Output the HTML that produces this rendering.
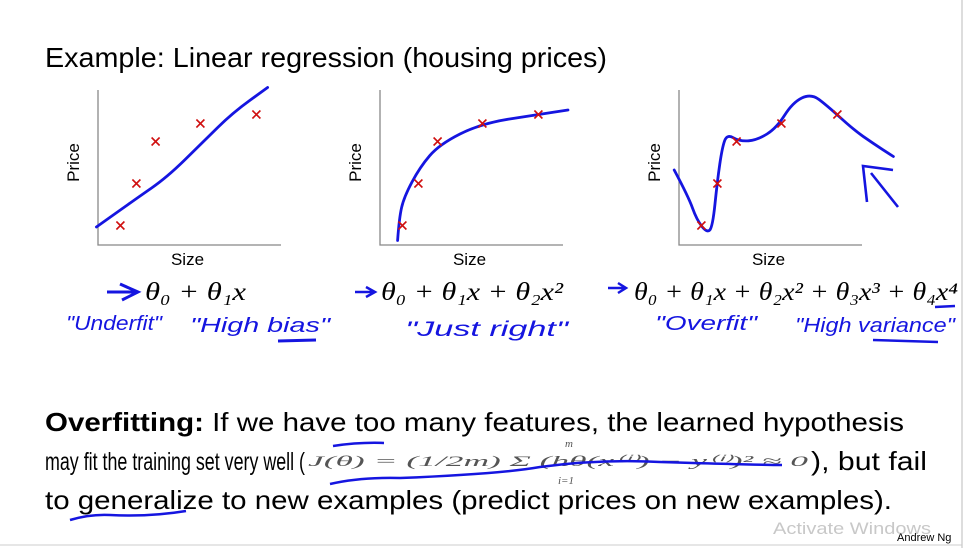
<!DOCTYPE html>
<html><head><meta charset="utf-8"><style>
html,body{margin:0;padding:0;background:#fff;}
svg{display:block;}
.t{font-family:"Liberation Sans",sans-serif;fill:#000;}
.m{font-family:"Liberation Serif",serif;fill:#000;}
.h{font-family:"Liberation Sans",sans-serif;font-style:italic;fill:#1515e0;}
</style></head><body>
<svg width="972" height="548" viewBox="0 0 972 548">
<line x1="962" y1="0" x2="962" y2="548" stroke="#bbb" stroke-width="1"/>
<line x1="0" y1="545" x2="962" y2="545" stroke="#ccc" stroke-width="1"/>
<text class="t" x="45" y="67" font-size="28" textLength="562" lengthAdjust="spacingAndGlyphs">Example: Linear regression (housing prices)</text>

<g id="charts"></g>

<text class="m" x="145" y="300" font-size="25" font-style="italic" textLength="101" lengthAdjust="spacingAndGlyphs">θ₀ + θ₁x</text>
<text class="m" x="381" y="300" font-size="25" font-style="italic" textLength="182" lengthAdjust="spacingAndGlyphs">θ₀ + θ₁x + θ₂x²</text>
<text class="m" x="634" y="300" font-size="25" font-style="italic" textLength="324" lengthAdjust="spacingAndGlyphs">θ₀ + θ₁x + θ₂x² + θ₃x³ + θ₄x⁴</text>
<path d="M107 292 L138 292 M120 284 L138 292 L122 300" stroke="#1515e0" stroke-width="3" fill="none"/>
<path d="M355 292 L375 292 M366 287 L375 292 L366 297" stroke="#1515e0" stroke-width="2.5" fill="none"/>
<path d="M608 288 L626 288 M618 283 L626 288 L618 293" stroke="#1515e0" stroke-width="2.5" fill="none"/>

<text class="h" x="66" y="330" font-size="20" textLength="96" lengthAdjust="spacingAndGlyphs">"Underfit"</text>
<text class="h" x="190" y="332" font-size="20" textLength="140" lengthAdjust="spacingAndGlyphs">"High bias"</text>
<path d="M278 341 L316 340" stroke="#1515e0" stroke-width="3"/>
<text class="h" x="405" y="336" font-size="21" textLength="163" lengthAdjust="spacingAndGlyphs">"Just right"</text>
<text class="h" x="655" y="330" font-size="20" textLength="102" lengthAdjust="spacingAndGlyphs">"Overfit"</text>
<text class="h" x="795" y="332" font-size="20" textLength="160" lengthAdjust="spacingAndGlyphs">"High variance"</text>
<path d="M873 340 L938 342 M935 307 L955 306" stroke="#1515e0" stroke-width="2.5" fill="none"/>

<text class="t" x="45" y="431" font-size="26" textLength="859" lengthAdjust="spacingAndGlyphs"><tspan font-weight="bold">Overfitting:</tspan> If we have too many features, the learned hypothesis</text>
<text class="t" x="45" y="470" font-size="25" textLength="260" lengthAdjust="spacingAndGlyphs">may fit the training set very well (</text>
<text x="308" y="466" font-size="15" style="font-family:'Liberation Serif',serif;font-style:italic;fill:#555" textLength="500" lengthAdjust="spacingAndGlyphs">J(θ) = (1/2m) Σ (hθ(x⁽ⁱ⁾) − y⁽ⁱ⁾)² ≈ 0</text>
<text x="565" y="447" font-size="11" style="font-family:'Liberation Serif',serif;font-style:italic;fill:#555">m</text>
<text x="558" y="484" font-size="11" style="font-family:'Liberation Serif',serif;font-style:italic;fill:#555">i=1</text>
<text class="t" x="811" y="470" font-size="26" textLength="116" lengthAdjust="spacingAndGlyphs">), but fail</text>
<text class="t" x="45" y="509" font-size="26" textLength="847" lengthAdjust="spacingAndGlyphs">to generalize to new examples (predict prices on new examples).</text>
<path d="M333 446 Q360 442 384 443 M330 484 Q360 477 400 478 Q500 474 540 467 Q600 459 660 462 Q760 465 782 465 M70 520 Q90 514 110 515 Q150 517 186 511" stroke="#1515e0" stroke-width="2.5" fill="none"/>
<text x="773" y="534" font-size="17" style="font-family:'Liberation Sans',sans-serif;fill:#c8c8c8" textLength="158" lengthAdjust="spacingAndGlyphs">Activate Windows</text>
<text class="t" x="897" y="541" font-size="11">Andrew Ng</text>
</svg>
<script>
// Data: house sizes and prices (arbitrary units)
const sizes = [1.4, 2.4, 3.6, 6.4, 9.9];
const prices = [1.3, 4.1, 6.9, 8.1, 8.7];
const fitUnder = [[-0.1,1.2],[2.4,3.1],[4.3,4.5],[6.5,6.8],[8.4,8.8],[10.6,10.5]];
const fitRight = [[1.1,0.3],[1.2,1.8],[1.5,3.2],[2.5,5.2],[3.7,6.7],[6.3,8.1],[9.9,8.7],[11.75,9.0]];
const fitOver = [[-0.3,5.0],[0.6,3.2],[1.1,1.7],[1.75,0.8],[2.1,1.2],[2.4,4.3],[2.7,6.5],[3.0,7.4],[3.8,6.9],[4.9,7.0],[6.1,7.8],[7.1,9.5],[8.25,10.1],[9.25,9.3],[10.9,7.7],[12.1,6.8],[13.4,5.9]];
const NS='http://www.w3.org/2000/svg';
const g=document.getElementById('charts');
const panels=[
 {x0:98,x1:281,fit:fitUnder,name:'underfit'},
 {x0:380,x1:563,fit:fitRight,name:'just-right'},
 {x0:679,x1:862,fit:fitOver,name:'overfit'}];
const yTop=90,yBot=245;
function mk(t,a){const e=document.createElementNS(NS,t);for(const k in a)e.setAttribute(k,a[k]);g.appendChild(e);return e;}
panels.forEach(p=>{
 const sx=v=>p.x0+v*16;
 const sy=v=>yBot-v*15;
 const ax=mk('path',{d:`M${p.x0} ${yTop} L${p.x0} ${yBot} L${p.x1} ${yBot}`,stroke:'#888','stroke-width':1.3,fill:'none'});
 
 
 const xl=mk('text',{x:(p.x0+p.x1)/2-2,y:265,'font-size':17,'text-anchor':'middle',class:'t'});xl.textContent='Size';
 
 
 const yl=mk('text',{x:0,y:0,'font-size':17,'text-anchor':'middle',class:'t',transform:`translate(${p.x0-19},${(yTop+yBot)/2-5}) rotate(-90)`});yl.textContent='Price';
 
 
 const pts=p.fit.map(q=>[sx(q[0]),sy(q[1])]);
 let d='M'+pts[0][0].toFixed(1)+' '+pts[0][1].toFixed(1);
 for(let i=1;i<pts.length-1;i++){const mx=(pts[i][0]+pts[i+1][0])/2,my=(pts[i][1]+pts[i+1][1])/2;d+=` Q${pts[i][0].toFixed(1)} ${pts[i][1].toFixed(1)} ${mx.toFixed(1)} ${my.toFixed(1)}`;}
 const l=pts[pts.length-1];d+=` L${l[0].toFixed(1)} ${l[1].toFixed(1)}`;
 const ln=mk('path',{d:d,stroke:'#1515e0','stroke-width':2.8,fill:'none','stroke-linejoin':'round','stroke-linecap':'round'});
 
 
 sizes.forEach((s,i)=>{const cx=sx(s),cy=sy(prices[i]);
  const m=mk('path',{d:`M${cx-4} ${cy-4} L${cx+4} ${cy+4} M${cx-4} ${cy+4} L${cx+4} ${cy-4}`,stroke:'#d01010','stroke-width':1.6});
  
  });
});
const arr=mk('path',{d:'M867 202 L863 166 L893 170 M871 173 L898 207',stroke:'#1515e0','stroke-width':2.6,fill:'none'});


</script>
</body></html>
